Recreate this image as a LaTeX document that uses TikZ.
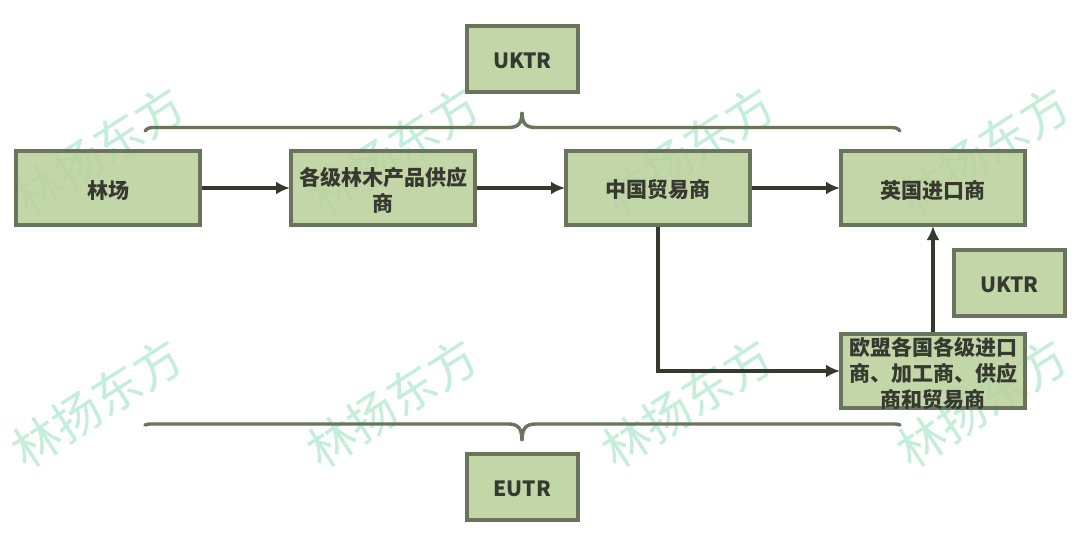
\documentclass[tikz,border=0pt]{standalone}
\usepackage{fontspec}
\setmainfont{Noto Sans CJK SC}
\usetikzlibrary{arrows.meta}
\definecolor{boxfill}{HTML}{BAD09A}
\definecolor{boxline}{HTML}{68745C}
\definecolor{arrowc}{HTML}{36392F}
\definecolor{wm}{HTML}{C4EEDA}
\tikzset{
  x=1pt,y=-1pt,
  box/.style={draw=boxline,fill=boxfill,fill opacity=0.86,line width=4pt,minimum width=#1,inner sep=0pt},
  box/.default=184pt,
  every label/.style={text opacity=1,align=center,text=arrowc,yshift=-2pt,font=\fontsize{21}{26}\selectfont\bfseries},
  flow/.style={draw=arrowc,line width=3.2pt,-{Latex[length=14pt,width=13pt]},shorten >=-1pt},
  bracket/.style={draw=boxline,line width=3.4pt,line cap=round},
  mark text/.style={text=wm,font=\fontsize{48}{48}\selectfont,rotate=33}
}
\begin{document}
\begin{tikzpicture}
\useasboundingbox (0,0) rectangle (1080,538);
\fill[white] (0,0) rectangle (1080,538);
% watermark
\foreach \mx/\my in {99/151,394/151,689/151,984/151,97/403,392/403,687/403,982/403}
  \node[mark text] at (\mx,\my) {林扬东方};
% brackets
\coordinate (tl) at (145,131);\coordinate (tr) at (900,131);\coordinate (tt) at (522,112);
\coordinate (bl) at (145,425);\coordinate (br) at (900,425);\coordinate (bt) at (522,441);
\draw[bracket] (tl) .. controls (148,128) .. (153,127.5) -- (508,127.5) .. controls (518,127.5) and (522,124) .. (tt) .. controls (522,124) and (526,127.5) .. (536,127.5) -- (892,127.5) .. controls (897,128) .. (tr);
\draw[bracket] (bl) .. controls (148,424) .. (153,424) -- (508,424) .. controls (518,424) and (522,428) .. (bt) .. controls (522,428) and (526,424) .. (536,424) -- (892,424) .. controls (897,424) .. (br);
% boxes
\node[box=111pt,minimum height=66pt,label=center:UKTR] (uktop) at (522.5,59) {};
\node[box,minimum height=74pt,label=center:林场] (farm) at (108,188) {};
\node[box,minimum height=74pt,label={center:各级林木产品供应\\商}] (sup) at (383,188) {};
\node[box,minimum height=74pt,label=center:中国贸易商] (cn) at (658,188) {};
\node[box,minimum height=74pt,label=center:英国进口商] (uk) at (933,188) {};
\node[box=111pt,minimum height=66pt,label=center:UKTR] (ukr) at (1009.5,283) {};
\node[box,minimum height=74pt,label={center:欧盟各国各级进口\\商、加工商、供应\\商和贸易商}] (eu) at (933,371) {};
\node[box=111pt,minimum height=66pt,label=center:EUTR] (ukb) at (522.5,487) {};
% connectors
\draw[flow] (farm.east) -- (sup.west);
\draw[flow] (sup.east) -- (cn.west);
\draw[flow] (cn.east) -- (uk.west);
\draw[flow] (cn.south) |- (eu.west);
\draw[flow] (eu.north) -- (uk.south);
\end{tikzpicture}
\end{document}
